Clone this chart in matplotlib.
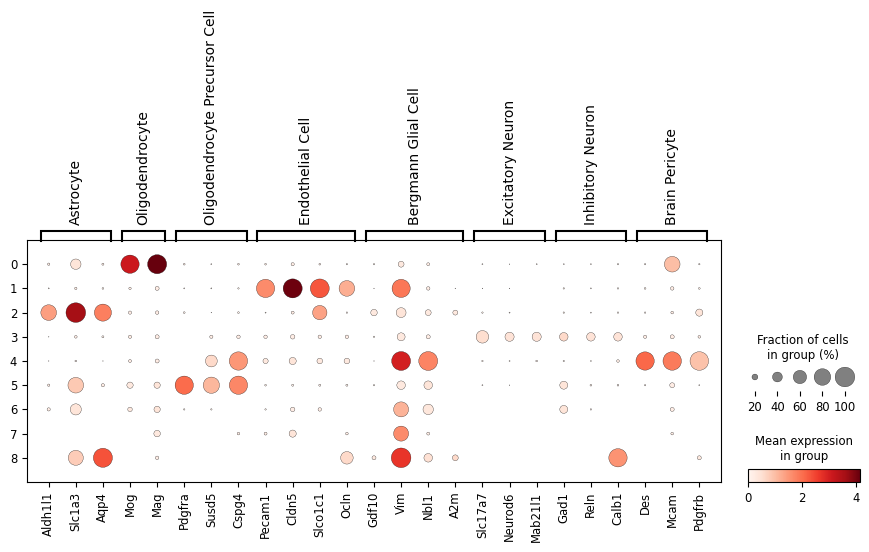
import numpy as np
import matplotlib
matplotlib.use("Agg")
import matplotlib.pyplot as plt
from matplotlib.cm import ScalarMappable
from matplotlib.colors import Normalize

genes = ["Aldh1l1", "Slc1a3", "Aqp4", "Mog", "Mag", "Pdgfra", "Susd5", "Cspg4",
         "Pecam1", "Cldn5", "Slco1c1", "Ocln", "Gdf10", "Vim", "Nbl1", "A2m",
         "Slc17a7", "Neurod6", "Mab21l1", "Gad1", "Reln", "Calb1", "Des", "Mcam", "Pdgfrb"]
groups = ["0", "1", "2", "3", "4", "5", "6", "7", "8"]
cell_types = ["Astrocyte", "Oligodendrocyte", "Oligodendrocyte Precursor Cell",
              "Endothelial Cell", "Bergmann Glial Cell", "Excitatory Neuron",
              "Inhibitory Neuron", "Brain Pericyte"]
type_ranges = [(0, 2), (3, 4), (5, 7), (8, 11), (12, 15), (16, 18), (19, 21), (22, 24)]

# fraction of cells expressing (%), one row per group
frac_pct = [
    [6, 43, 5, 91, 96, 4, 2, 4, 4, 9, 4, 3, 3, 20, 8, 0, 2, 1, 2, 2, 2, 3, 3, 74, 3],
    [2, 6, 4, 6, 12, 2, 2, 3, 91, 96, 95, 74, 1, 90, 10, 1, 1, 1, 0, 3, 2, 3, 4, 10, 4],
    [74, 100, 83, 9, 10, 4, 1, 4, 2, 8, 66, 3, 23, 40, 20, 16, 3, 2, 0, 3, 2, 3, 3, 7, 26],
    [1, 7, 5, 9, 12, 0, 9, 10, 10, 14, 10, 10, 3, 30, 12, 0, 55, 36, 36, 33, 33, 33, 9, 12, 7],
    [1, 4, 1, 8, 12, 0, 51, 91, 17, 26, 19, 19, 1, 95, 95, 0, 3, 2, 4, 3, 2, 7, 91, 92, 93],
    [6, 74, 9, 22, 22, 91, 78, 91, 4, 5, 5, 5, 3, 33, 33, 0, 2, 1, 0, 30, 4, 4, 3, 16, 2],
    [9, 47, 0, 14, 22, 3, 3, 0, 3, 14, 10, 0, 0, 70, 43, 0, 0, 0, 0, 30, 3, 0, 0, 12, 0],
    [0, 0, 0, 0, 23, 0, 0, 7, 8, 26, 0, 7, 0, 70, 8, 0, 0, 0, 0, 0, 0, 0, 0, 7, 0],
    [0, 70, 96, 0, 10, 0, 0, 0, 0, 0, 0, 55, 12, 100, 33, 20, 0, 0, 0, 0, 0, 91, 0, 0, 12],
]

# mean expression in group
mean_expr = [
    [0.2, 0.4, 0.2, 3.1, 4.15, 0.2, 0.1, 0.2, 0.2, 0.2, 0.2, 0.1, 0.1, 0.3, 0.2, 0, 0.1, 0.1, 0.1, 0.1, 0.1, 0.1, 0.1, 1.0, 0.1],
    [0.1, 0.2, 0.1, 0.2, 0.2, 0.1, 0.1, 0.1, 1.65, 4.1, 2.3, 1.2, 0.1, 1.9, 0.2, 0.1, 0.1, 0.1, 0, 0.1, 0.1, 0.1, 0.1, 0.2, 0.1],
    [1.4, 3.6, 1.8, 0.2, 0.2, 0.1, 0.1, 0.1, 0.1, 0.2, 1.35, 0.1, 0.3, 0.4, 0.3, 0.3, 0.1, 0.1, 0, 0.1, 0.1, 0.1, 0.1, 0.2, 0.4],
    [0.1, 0.2, 0.1, 0.2, 0.2, 0, 0.2, 0.2, 0.2, 0.2, 0.2, 0.2, 0.1, 0.3, 0.2, 0, 0.55, 0.45, 0.45, 0.6, 0.45, 0.45, 0.2, 0.2, 0.2],
    [0.1, 0.1, 0.1, 0.2, 0.2, 0, 0.6, 1.5, 0.3, 0.4, 0.3, 0.3, 0.1, 3.0, 1.75, 0, 0.1, 0.1, 0.1, 0.1, 0.1, 0.2, 2.1, 1.85, 0.95],
    [0.2, 0.85, 0.2, 0.3, 0.4, 2.05, 1.1, 1.7, 0.1, 0.1, 0.1, 0.1, 0.1, 0.3, 0.4, 0, 0.1, 0.1, 0, 0.4, 0.1, 0.1, 0.1, 0.2, 0.1],
    [0.2, 0.4, 0, 0.3, 0.4, 0.1, 0.1, 0, 0.1, 0.2, 0.2, 0, 0, 1.15, 0.35, 0, 0, 0, 0, 0.4, 0.1, 0, 0, 0.2, 0],
    [0, 0, 0, 0, 0.3, 0, 0, 0.2, 0.2, 0.4, 0, 0.2, 0, 1.65, 0.2, 0, 0, 0, 0, 0, 0, 0, 0, 0.2, 0],
    [0, 0.8, 2.35, 0, 0.2, 0, 0, 0, 0, 0, 0, 0.6, 0.3, 2.7, 0.5, 0.6, 0, 0, 0, 0, 0, 1.55, 0, 0, 0.3],
]

legend_pct = [20, 40, 60, 80, 100]
vmax = 4.15
largest_dot = 200
W, H = 870, 552


def px_axes(fig, x0, y0, x1, y1):
    return fig.add_axes([x0 / W, 1 - y1 / H, (x1 - x0) / W, (y1 - y0) / H])


fig = plt.figure(figsize=(W / 100, H / 100), dpi=100)

# main dot plot
ax = px_axes(fig, 27, 240, 721, 482)
frac = np.array(frac_pct, dtype=float) / 100
expr = np.array(mean_expr, dtype=float)
yy, xx = np.meshgrid(np.arange(len(groups)), np.arange(len(genes)), indexing="ij")
sizes = frac ** 1.5 * largest_dot
norm = Normalize(vmin=0, vmax=vmax)
ax.scatter(xx.ravel(), yy.ravel(), s=sizes.ravel(), c=expr.ravel(), cmap="Reds",
           norm=norm, edgecolor="black", linewidth=0.2)
ax.set_xlim(-0.8, len(genes) - 1 + 0.8)
ax.set_ylim(len(groups), -1)
ax.set_xticks(range(len(genes)))
ax.set_xticklabels(genes, rotation=90)
ax.set_yticks(range(len(groups)))
ax.set_yticklabels(groups)
ax.tick_params(labelsize="small")

# brackets with cell type labels
axb = px_axes(fig, 27, 231, 721, 240)
axb.set_xlim(ax.get_xlim())
axb.set_ylim(0, 1)
axb.axis("off")
for name, (a, b) in zip(cell_types, type_ranges):
    l, r = a - 0.3, b + 0.3
    axb.plot([l, l, r, r], [-0.1, 1, 1, -0.1], color="black", lw=1.5,
             clip_on=False, solid_joinstyle="miter")
    axb.annotate(name, xy=((a + b) / 2, 1), xytext=(0, 4.5), textcoords="offset points",
                 rotation=90, ha="center", va="bottom", fontsize=10)

# size legend
axs = px_axes(fig, 745, 363, 858, 391)
axs.scatter(range(len(legend_pct)), [0.5] * len(legend_pct),
            s=(np.array(legend_pct) / 100) ** 1.5 * largest_dot,
            color="gray", edgecolor="black", linewidth=0.2, zorder=100)
axs.set_xlim(-0.44, len(legend_pct) - 1 + 0.58)
axs.set_ylim(0, 1)
axs.set_xticks(range(len(legend_pct)))
axs.set_xticklabels([str(p) for p in legend_pct], fontsize="small")
axs.set_yticks([])
for s in axs.spines.values():
    s.set_visible(False)
fig.text(803 / W, 1 - 348 / H, "Fraction of cells\nin group (%)", ha="center",
         va="center", fontsize="small")

# colorbar
cax = px_axes(fig, 748, 469, 860, 482)
cb = fig.colorbar(ScalarMappable(norm=norm, cmap="Reds"), cax=cax, orientation="horizontal")
cb.set_ticks([0, 2, 4])
cax.tick_params(labelsize="small")
fig.text(804 / W, 1 - 449 / H, "Mean expression\nin group", ha="center",
         va="center", fontsize="small")

fig.savefig("out.png", dpi=100)
